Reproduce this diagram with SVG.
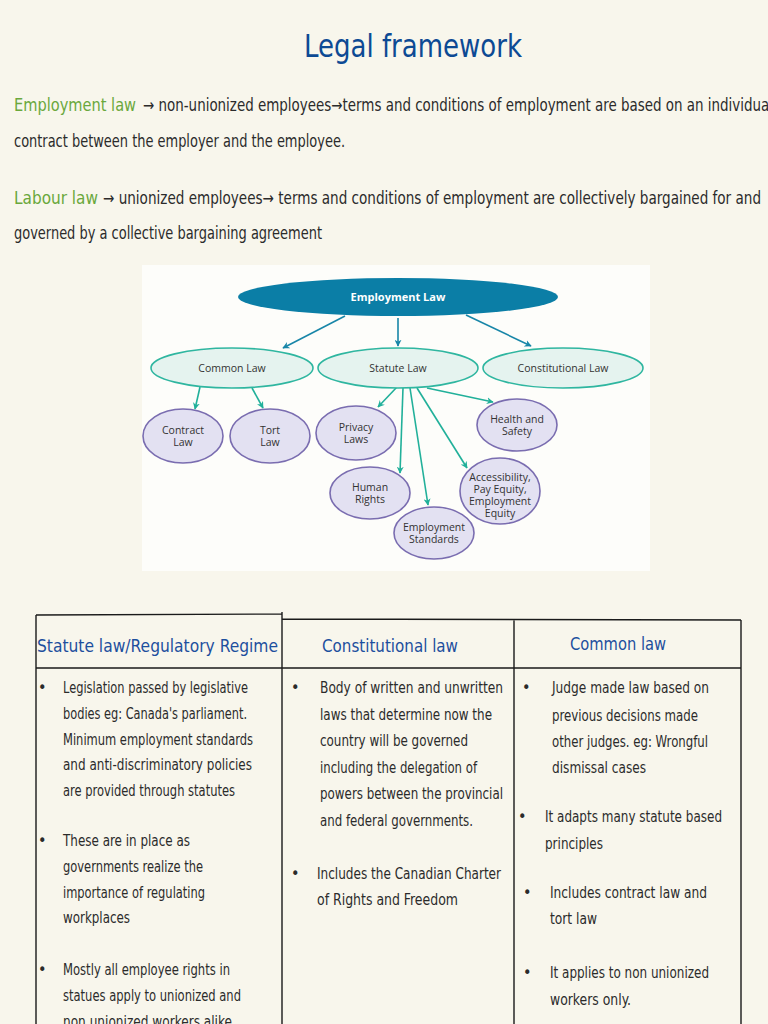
<svg xmlns="http://www.w3.org/2000/svg" width="768" height="1024" viewBox="0 0 768 1024">
<defs>
<style>
.hw{font-family:"Liberation Sans Narrow","DejaVu Sans Condensed","Liberation Sans",sans-serif;font-stretch:condensed;fill:#2b2b2b;font-size:16px}
.tl{font-size:17px}
.grn{fill:#6aa83c}
.blu{fill:#1d4f9e;font-size:18px}
.ttl{fill:#0d4a94;font-size:32px}
.dg{font-family:"Open Sans","Noto Sans","Liberation Sans",sans-serif;font-size:10.5px;fill:#333;text-anchor:middle}
.top{fill:#0b7ea6}
.mid{fill:#e5f3ef;stroke:#2fb6a0;stroke-width:1.6}
.leaf{fill:#e3e1f2;stroke:#7a6db0;stroke-width:1.6}
.c1{stroke:#1886a8;stroke-width:1.6;fill:none;marker-end:url(#ab)}
.c2{stroke:#21b09a;stroke-width:1.6;fill:none;marker-end:url(#at)}
.bd{stroke:#1a1a1a;stroke-width:1.4;fill:none}
</style>
<marker id="ab" viewBox="0 0 10 10" refX="9" refY="5" markerWidth="7" markerHeight="7" markerUnits="userSpaceOnUse" orient="auto"><path d="M0,0 L10,5 L0,10 L3,5 Z" fill="#1886a8"/></marker>
<marker id="at" viewBox="0 0 10 10" refX="9" refY="5" markerWidth="7" markerHeight="7" markerUnits="userSpaceOnUse" orient="auto"><path d="M0,0 L10,5 L0,10 L3,5 Z" fill="#21b09a"/></marker>
</defs>
<rect width="768" height="1024" fill="#f8f6ec"/>

<g id="header-text">
<text class="hw ttl" x="304" y="57" textLength="218" lengthAdjust="spacingAndGlyphs">Legal framework</text>
<text class="hw tl grn" x="14" y="111" textLength="122" lengthAdjust="spacingAndGlyphs">Employment law</text>
<text class="hw tl" x="143" y="111" textLength="630" lengthAdjust="spacingAndGlyphs">→ non-unionized employees→terms and conditions of employment are based on an individual</text>
<text class="hw tl" x="14" y="147" textLength="331" lengthAdjust="spacingAndGlyphs">contract between the employer and the employee.</text>
<text class="hw tl grn" x="14" y="204" textLength="84" lengthAdjust="spacingAndGlyphs">Labour law</text>
<text class="hw tl" x="103" y="204" textLength="658" lengthAdjust="spacingAndGlyphs">→ unionized employees→  terms and conditions of employment are collectively bargained for and</text>
<text class="hw tl" x="14" y="239" textLength="308" lengthAdjust="spacingAndGlyphs">governed by a collective bargaining agreement</text>
</g>

<rect x="142" y="265" width="508" height="306" fill="#fdfdfa"/>

<g id="connectors">
<line class="c1" x1="345" y1="316" x2="283" y2="348"/>
<line class="c1" x1="398" y1="318" x2="398" y2="346"/>
<line class="c1" x1="466" y1="315" x2="531" y2="346"/>
<line class="c2" x1="200" y1="387" x2="195" y2="409"/>
<line class="c2" x1="252" y1="388" x2="263" y2="408"/>
<line class="c2" x1="397" y1="387" x2="378" y2="407"/>
<line class="c2" x1="403" y1="388" x2="400" y2="473"/>
<line class="c2" x1="410" y1="388" x2="428" y2="505"/>
<line class="c2" x1="417" y1="388" x2="467" y2="468"/>
<line class="c2" x1="427" y1="388" x2="493" y2="402"/>
</g>

<g id="n-employment-law"><ellipse class="top" cx="398" cy="297" rx="160" ry="19"/><text class="dg" x="398" y="301" style="fill:#fff;font-weight:bold;font-size:11px">Employment Law</text></g>
<g id="n-common-law"><ellipse class="mid" cx="232" cy="368" rx="81" ry="20"/><text class="dg" x="232" y="372">Common Law</text></g>
<g id="n-statute-law"><ellipse class="mid" cx="398" cy="368" rx="80" ry="20"/><text class="dg" x="398" y="372">Statute Law</text></g>
<g id="n-constitutional-law"><ellipse class="mid" cx="563" cy="368" rx="80" ry="20"/><text class="dg" x="563" y="372">Constitutional Law</text></g>
<g id="n-contract-law"><ellipse class="leaf" cx="183" cy="436" rx="40" ry="27"/><text class="dg" x="183" y="434">Contract</text><text class="dg" x="183" y="446">Law</text></g>
<g id="n-tort-law"><ellipse class="leaf" cx="270" cy="436" rx="40" ry="27"/><text class="dg" x="270" y="434">Tort</text><text class="dg" x="270" y="446">Law</text></g>
<g id="n-privacy-laws"><ellipse class="leaf" cx="356" cy="433" rx="40" ry="27"/><text class="dg" x="356" y="431">Privacy</text><text class="dg" x="356" y="443">Laws</text></g>
<g id="n-health-safety"><ellipse class="leaf" cx="517" cy="425" rx="40" ry="26"/><text class="dg" x="517" y="423">Health and</text><text class="dg" x="517" y="435">Safety</text></g>
<g id="n-human-rights"><ellipse class="leaf" cx="370" cy="493" rx="40" ry="26"/><text class="dg" x="370" y="491">Human</text><text class="dg" x="370" y="503">Rights</text></g>
<g id="n-employment-standards"><ellipse class="leaf" cx="434" cy="533" rx="40" ry="26"/><text class="dg" x="434" y="531">Employment</text><text class="dg" x="434" y="543">Standards</text></g>
<g id="n-accessibility"><ellipse class="leaf" cx="500" cy="491" rx="40" ry="33"/><text class="dg" x="500" y="481">Accessibility,</text><text class="dg" x="500" y="493">Pay Equity,</text><text class="dg" x="500" y="505">Employment</text><text class="dg" x="500" y="517">Equity</text></g>

<g id="table">
<path class="bd" d="M36,615 L282,614 M282,619 L741,620 M36,615 L36,1024 M282,612 L282,1024 M514,620 L514,1024 M741,620 L741,1024 M36,668 L741,668"/>
<text class="hw blu" x="37" y="652" textLength="241" lengthAdjust="spacingAndGlyphs">Statute law/Regulatory Regime</text>
<text class="hw blu" x="322" y="652" textLength="136" lengthAdjust="spacingAndGlyphs">Constitutional law</text>
<text class="hw blu" x="570" y="650" textLength="96" lengthAdjust="spacingAndGlyphs">Common law</text>

<g id="col1">
<text class="hw" x="38" y="693">•</text><text class="hw" x="63" y="693" textLength="185" lengthAdjust="spacingAndGlyphs">Legislation passed by legislative</text>
<text class="hw" x="63" y="719" textLength="184" lengthAdjust="spacingAndGlyphs">bodies eg: Canada's parliament.</text>
<text class="hw" x="63" y="745" textLength="190" lengthAdjust="spacingAndGlyphs">Minimum employment standards</text>
<text class="hw" x="63" y="770" textLength="189" lengthAdjust="spacingAndGlyphs">and anti-discriminatory policies</text>
<text class="hw" x="63" y="796" textLength="172" lengthAdjust="spacingAndGlyphs">are provided through statutes</text>
<text class="hw" x="38" y="846">•</text><text class="hw" x="63" y="846" textLength="127" lengthAdjust="spacingAndGlyphs">These are in place as</text>
<text class="hw" x="63" y="872" textLength="140" lengthAdjust="spacingAndGlyphs">governments realize the</text>
<text class="hw" x="63" y="898" textLength="142" lengthAdjust="spacingAndGlyphs">importance of regulating</text>
<text class="hw" x="63" y="923" textLength="67" lengthAdjust="spacingAndGlyphs">workplaces</text>
<text class="hw" x="38" y="975">•</text><text class="hw" x="63" y="975" textLength="167" lengthAdjust="spacingAndGlyphs">Mostly all employee rights in</text>
<text class="hw" x="63" y="1001" textLength="178" lengthAdjust="spacingAndGlyphs">statues apply to unionized and</text>
<text class="hw" x="63" y="1027" textLength="169" lengthAdjust="spacingAndGlyphs">non unionized workers alike</text>
</g>
<g id="col2">
<text class="hw" x="291" y="693">•</text><text class="hw" x="320" y="693" textLength="183" lengthAdjust="spacingAndGlyphs">Body of written and unwritten</text>
<text class="hw" x="320" y="720" textLength="172" lengthAdjust="spacingAndGlyphs">laws that determine now the</text>
<text class="hw" x="320" y="746" textLength="148" lengthAdjust="spacingAndGlyphs">country will be governed</text>
<text class="hw" x="320" y="773" textLength="157" lengthAdjust="spacingAndGlyphs">including the delegation of</text>
<text class="hw" x="320" y="799" textLength="183" lengthAdjust="spacingAndGlyphs">powers between the provincial</text>
<text class="hw" x="320" y="826" textLength="153" lengthAdjust="spacingAndGlyphs">and federal governments.</text>
<text class="hw" x="291" y="879">•</text><text class="hw" x="317" y="879" textLength="184" lengthAdjust="spacingAndGlyphs">Includes the Canadian Charter</text>
<text class="hw" x="317" y="905" textLength="141" lengthAdjust="spacingAndGlyphs">of Rights and Freedom</text>
</g>
<g id="col3">
<text class="hw" x="522" y="693">•</text><text class="hw" x="552" y="693" textLength="157" lengthAdjust="spacingAndGlyphs">Judge made law based on</text>
<text class="hw" x="552" y="721" textLength="146" lengthAdjust="spacingAndGlyphs">previous decisions made</text>
<text class="hw" x="552" y="747" textLength="156" lengthAdjust="spacingAndGlyphs">other judges. eg: Wrongful</text>
<text class="hw" x="552" y="773" textLength="94" lengthAdjust="spacingAndGlyphs">dismissal cases</text>
<text class="hw" x="518" y="822">•</text><text class="hw" x="545" y="822" textLength="177" lengthAdjust="spacingAndGlyphs">It adapts many statute based</text>
<text class="hw" x="545" y="849" textLength="58" lengthAdjust="spacingAndGlyphs">principles</text>
<text class="hw" x="523" y="898">•</text><text class="hw" x="550" y="898" textLength="157" lengthAdjust="spacingAndGlyphs">Includes contract law and</text>
<text class="hw" x="550" y="924" textLength="47" lengthAdjust="spacingAndGlyphs">tort law</text>
<text class="hw" x="523" y="978">•</text><text class="hw" x="550" y="978" textLength="159" lengthAdjust="spacingAndGlyphs">It applies to non unionized</text>
<text class="hw" x="550" y="1005" textLength="81" lengthAdjust="spacingAndGlyphs">workers only.</text>
</g>
</g>
</svg>
